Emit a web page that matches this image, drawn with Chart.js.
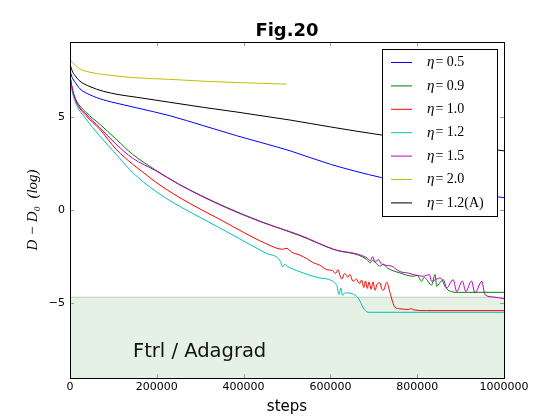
<!DOCTYPE html>
<html>
<head>
<meta charset="utf-8">
<script src="https://cdn.jsdelivr.net/npm/chart.js@4/dist/chart.umd.min.js"></script>
<style>
  html, body { margin: 0; padding: 0; background: #fff; }
  #chart { display: block; }
</style>
</head>
<body>
<canvas id="chart" width="560" height="420"></canvas>
<script>
// Fig.20 - D - D0 (log) vs steps for several eta values

const xTicks = [0, 200000, 400000, 600000, 800000, 1000000];
const yTicks = [-5, 0, 5];

const eta05Steps = [0, 5000, 11500, 23000, 46000, 77000, 115000, 154000, 230000, 307000, 384000, 461000, 507000, 600000, 717000, 850000, 1000000];
const eta05Values = [7.47, 7.1, 6.85, 6.49, 6.17, 5.9, 5.68, 5.47, 5.05, 4.52, 3.98, 3.48, 3.17, 2.45, 1.74, 1.15, 0.66];

const eta09Steps = [0, 5000, 14000, 37000, 68000, 106000, 144000, 198000, 250000, 300000, 360000, 439000, 530000, 607000, 684000, 691000, 697000, 714000, 722000, 731000, 760000, 791000, 800000, 810000, 816000, 822000, 833000, 841000, 845000, 852000, 860000, 868000, 879000, 890000, 1000000];
const eta09Values = [7.1, 6.5, 5.9, 5.23, 4.61, 3.8, 2.99, 2.13, 1.4, 0.8, 0.15, -0.61, -1.38, -2.11, -2.65, -2.83, -2.7, -3.01, -2.9, -3.1, -3.37, -3.55, -3.5, -3.82, -3.6, -3.73, -4.03, -3.46, -4.09, -3.9, -3.73, -4.21, -4.37, -4.41, -4.41];

const eta10Steps = [0, 5000, 14000, 37000, 68000, 106000, 144000, 164000, 200000, 250000, 300000, 353000, 400000, 448000, 490000, 500000, 510000, 530000, 545000, 561000, 575000, 591000, 605000, 612000, 617000, 626000, 633000, 640000, 645000, 652000, 660000, 667000, 672000, 677000, 681000, 685000, 689000, 694000, 698000, 703000, 708000, 714000, 718000, 722000, 730000, 737000, 749000, 760000, 780000, 786000, 792000, 822000, 1000000];
const eta10Values = [7.2, 6.5, 5.8, 5.05, 4.34, 3.26, 2.46, 2.1, 1.45, 0.7, 0.05, -0.6, -1.2, -1.76, -2.1, -2.05, -2.25, -2.42, -2.6, -2.83, -2.95, -3.19, -3.25, -3.4, -3.2, -3.7, -3.4, -3.6, -3.45, -3.82, -3.7, -3.95, -3.75, -4.15, -3.8, -4.2, -3.85, -4.25, -3.85, -4.3, -3.95, -3.9, -4.2, -4.3, -3.87, -4.41, -5.22, -5.29, -5.33, -5.28, -5.35, -5.39, -5.39];

const eta12Steps = [0, 5000, 14000, 37000, 68000, 106000, 140500, 180000, 220000, 260000, 316000, 360000, 415000, 450000, 485000, 490000, 495000, 500000, 530000, 576000, 614000, 620000, 624000, 628000, 634000, 664000, 676000, 687000, 1000000];
const eta12Values = [7.0, 6.35, 5.68, 4.87, 3.98, 2.99, 2.1, 1.3, 0.65, 0.1, -0.6, -1.15, -1.85, -2.3, -2.75, -3.05, -2.9, -3.0, -3.31, -3.64, -4.0, -4.53, -4.18, -4.57, -4.44, -4.71, -5.25, -5.48, -5.48];

const eta15Steps = [0, 5000, 14000, 37000, 68000, 106000, 144000, 198000, 250000, 300000, 360000, 439000, 530000, 607000, 684000, 692000, 697000, 703000, 710000, 718000, 740000, 760000, 780000, 791000, 800000, 814000, 828000, 833000, 845000, 853000, 868000, 883000, 891000, 904000, 912000, 925000, 933000, 949000, 956000, 975000, 1000000];
const eta15Values = [7.2, 6.55, 5.85, 5.14, 4.43, 3.53, 2.78, 2.1, 1.38, 0.78, 0.12, -0.63, -1.35, -2.1, -2.56, -2.72, -2.5, -2.8, -2.65, -2.9, -3.0, -3.3, -3.38, -3.46, -3.5, -3.55, -3.46, -3.82, -3.7, -3.64, -4.18, -3.73, -4.37, -3.8, -4.37, -3.8, -4.44, -3.82, -4.53, -4.66, -4.75];

const eta20Steps = [0, 10000, 23000, 46000, 77000, 154000, 230000, 307000, 384000, 499000];
const eta20Values = [8.05, 7.8, 7.56, 7.38, 7.26, 7.08, 7.0, 6.9, 6.83, 6.74];

const eta12aSteps = [0, 5000, 11500, 23000, 46000, 77000, 115000, 154000, 230000, 307000, 384000, 461000, 507000, 600000, 717000, 850000, 1000000];
const eta12aValues = [7.83, 7.45, 7.2, 6.9, 6.61, 6.36, 6.17, 6.04, 5.77, 5.5, 5.25, 4.98, 4.82, 4.45, 4.02, 3.6, 3.17];

const seriesLabels = ['0.5', '0.9', '1.0', '1.2', '1.5', '2.0', '1.2(A)'];
const seriesColors = ['#0000ff', '#008000', '#ff0000', '#00bfbf', '#bf00bf', '#bfbf00', '#000000'];

// green region marking where Ftrl / Adagrad sits
const regionSteps = [0, 1000000];
const regionValues = [-4.68, -4.68];

const seriesSteps = [eta05Steps, eta09Steps, eta10Steps, eta12Steps, eta15Steps, eta20Steps, eta12aSteps];
const seriesValues = [eta05Values, eta09Values, eta10Values, eta12Values, eta15Values, eta20Values, eta12aValues];

function points(steps, vals){
  return steps.map((s, i) => ({x: s, y: vals[i]}));
}

const datasets = seriesLabels.map((lab, i) => ({
  label: 'η = ' + lab,
  data: points(seriesSteps[i], seriesValues[i]),
  borderColor: seriesColors[i],
  borderWidth: 1,
  pointRadius: 0,
  cubicInterpolationMode: 'monotone',
  fill: false,
  order: seriesLabels.length - i
}));

datasets.push({
  label: 'region',
  data: points(regionSteps, regionValues),
  borderColor: 'rgba(0,70,0,0.15)',
  borderWidth: 1.5,
  backgroundColor: 'rgba(0,120,0,0.105)',
  pointRadius: 0,
  fill: 'start',
  order: 100
});

// frame, inward ticks, title, text, legend
const decor = {
  id: 'decor',
  afterDraw(chart){
    const ctx = chart.ctx;
    const a = chart.chartArea;
    const xs = chart.scales.x, ys = chart.scales.y;
    ctx.save();

    // inward ticks
    ctx.strokeStyle = '#999';
    ctx.lineWidth = 1;
    ctx.beginPath();
    xTicks.forEach(v => {
      const px = Math.round(xs.getPixelForValue(v)) + 0.5;
      ctx.moveTo(px, a.top); ctx.lineTo(px, a.top + 4);
      ctx.moveTo(px, a.bottom); ctx.lineTo(px, a.bottom - 4);
    });
    yTicks.forEach(v => {
      const py = Math.round(ys.getPixelForValue(v)) + 0.5;
      ctx.moveTo(a.left, py); ctx.lineTo(a.left + 4, py);
      ctx.moveTo(a.right, py); ctx.lineTo(a.right - 4, py);
    });
    ctx.stroke();

    // frame
    ctx.strokeStyle = '#000';
    ctx.lineWidth = 1;
    ctx.strokeRect(Math.round(a.left) + 0.5, Math.round(a.top) + 0.5, Math.round(a.right - a.left), Math.round(a.bottom - a.top));

    // title
    ctx.fillStyle = '#000';
    ctx.font = 'bold 18px "DejaVu Sans"';
    ctx.textAlign = 'center';
    ctx.textBaseline = 'alphabetic';
    ctx.fillText('Fig.20', (a.left + a.right) / 2, 36);

    // region text
    ctx.font = '19.5px "DejaVu Sans"';
    ctx.textAlign = 'left';
    ctx.fillStyle = '#111';
    ctx.fillText('Ftrl / Adagrad', xs.getPixelForValue(145000), ys.getPixelForValue(-7.85));

    // legend
    const bx = 382.5, by = 49.5, bw = 115, bh = 167;
    ctx.fillStyle = '#fff';
    ctx.fillRect(bx, by, bw, bh);
    ctx.strokeStyle = '#000';
    ctx.strokeRect(bx, by, bw, bh);
    ctx.textBaseline = 'middle';
    seriesLabels.forEach((lab, i) => {
      const y = 62.5 + i * 23.4;
      ctx.strokeStyle = seriesColors[i];
      ctx.beginPath();
      ctx.moveTo(391, y); ctx.lineTo(412, y);
      ctx.stroke();
      ctx.fillStyle = '#000';
      ctx.font = 'italic 15px "Liberation Serif"';
      ctx.fillText('η', 427, y);
      const w = ctx.measureText('η').width;
      ctx.font = '14px "Liberation Serif"';
      ctx.fillText('= ' + lab, 427 + w + 1, y);
    });

    ctx.restore();
  }
};

const tickFont = {family: 'DejaVu Sans', size: 11};

new Chart(document.getElementById('chart'), {
  type: 'line',
  data: {datasets: datasets},
  options: {
    responsive: false,
    animation: false,
    layout: {padding: {top: 42, right: 56, left: 0, bottom: 0}},
    plugins: {legend: {display: false}, tooltip: {enabled: false}},
    scales: {
      x: {
        type: 'linear', min: 0, max: 1000000,
        afterBuildTicks: s => { s.ticks = xTicks.map(v => ({value: v})); },
        afterFit: s => { s.height = 42; },
        ticks: {callback: v => String(v), font: tickFont, color: '#000', padding: 3, maxRotation: 0, autoSkip: false},
        grid: {display: false, drawTicks: false},
        border: {display: false},
        title: {display: true, text: 'steps', color: '#000', font: {family: 'DejaVu Sans', size: 15}, padding: {top: 0, bottom: 4}}
      },
      y: {
        type: 'linear', min: -9, max: 9,
        afterBuildTicks: s => { s.ticks = yTicks.map(v => ({value: v})); },
        afterFit: s => { s.width = 70; },
        ticks: {callback: v => v < 0 ? '\u2212' + Math.abs(v) : String(v), font: tickFont, color: '#000', padding: 5},
        grid: {display: false, drawTicks: false},
        border: {display: false},
        title: {display: true, text: 'D \u2212 D\u2080  (log)', color: '#000', font: {family: 'Liberation Serif', size: 15, style: 'italic'}, padding: {top: 24, bottom: 0}}
      }
    }
  },
  plugins: [decor]
});
</script>
</body>
</html>
